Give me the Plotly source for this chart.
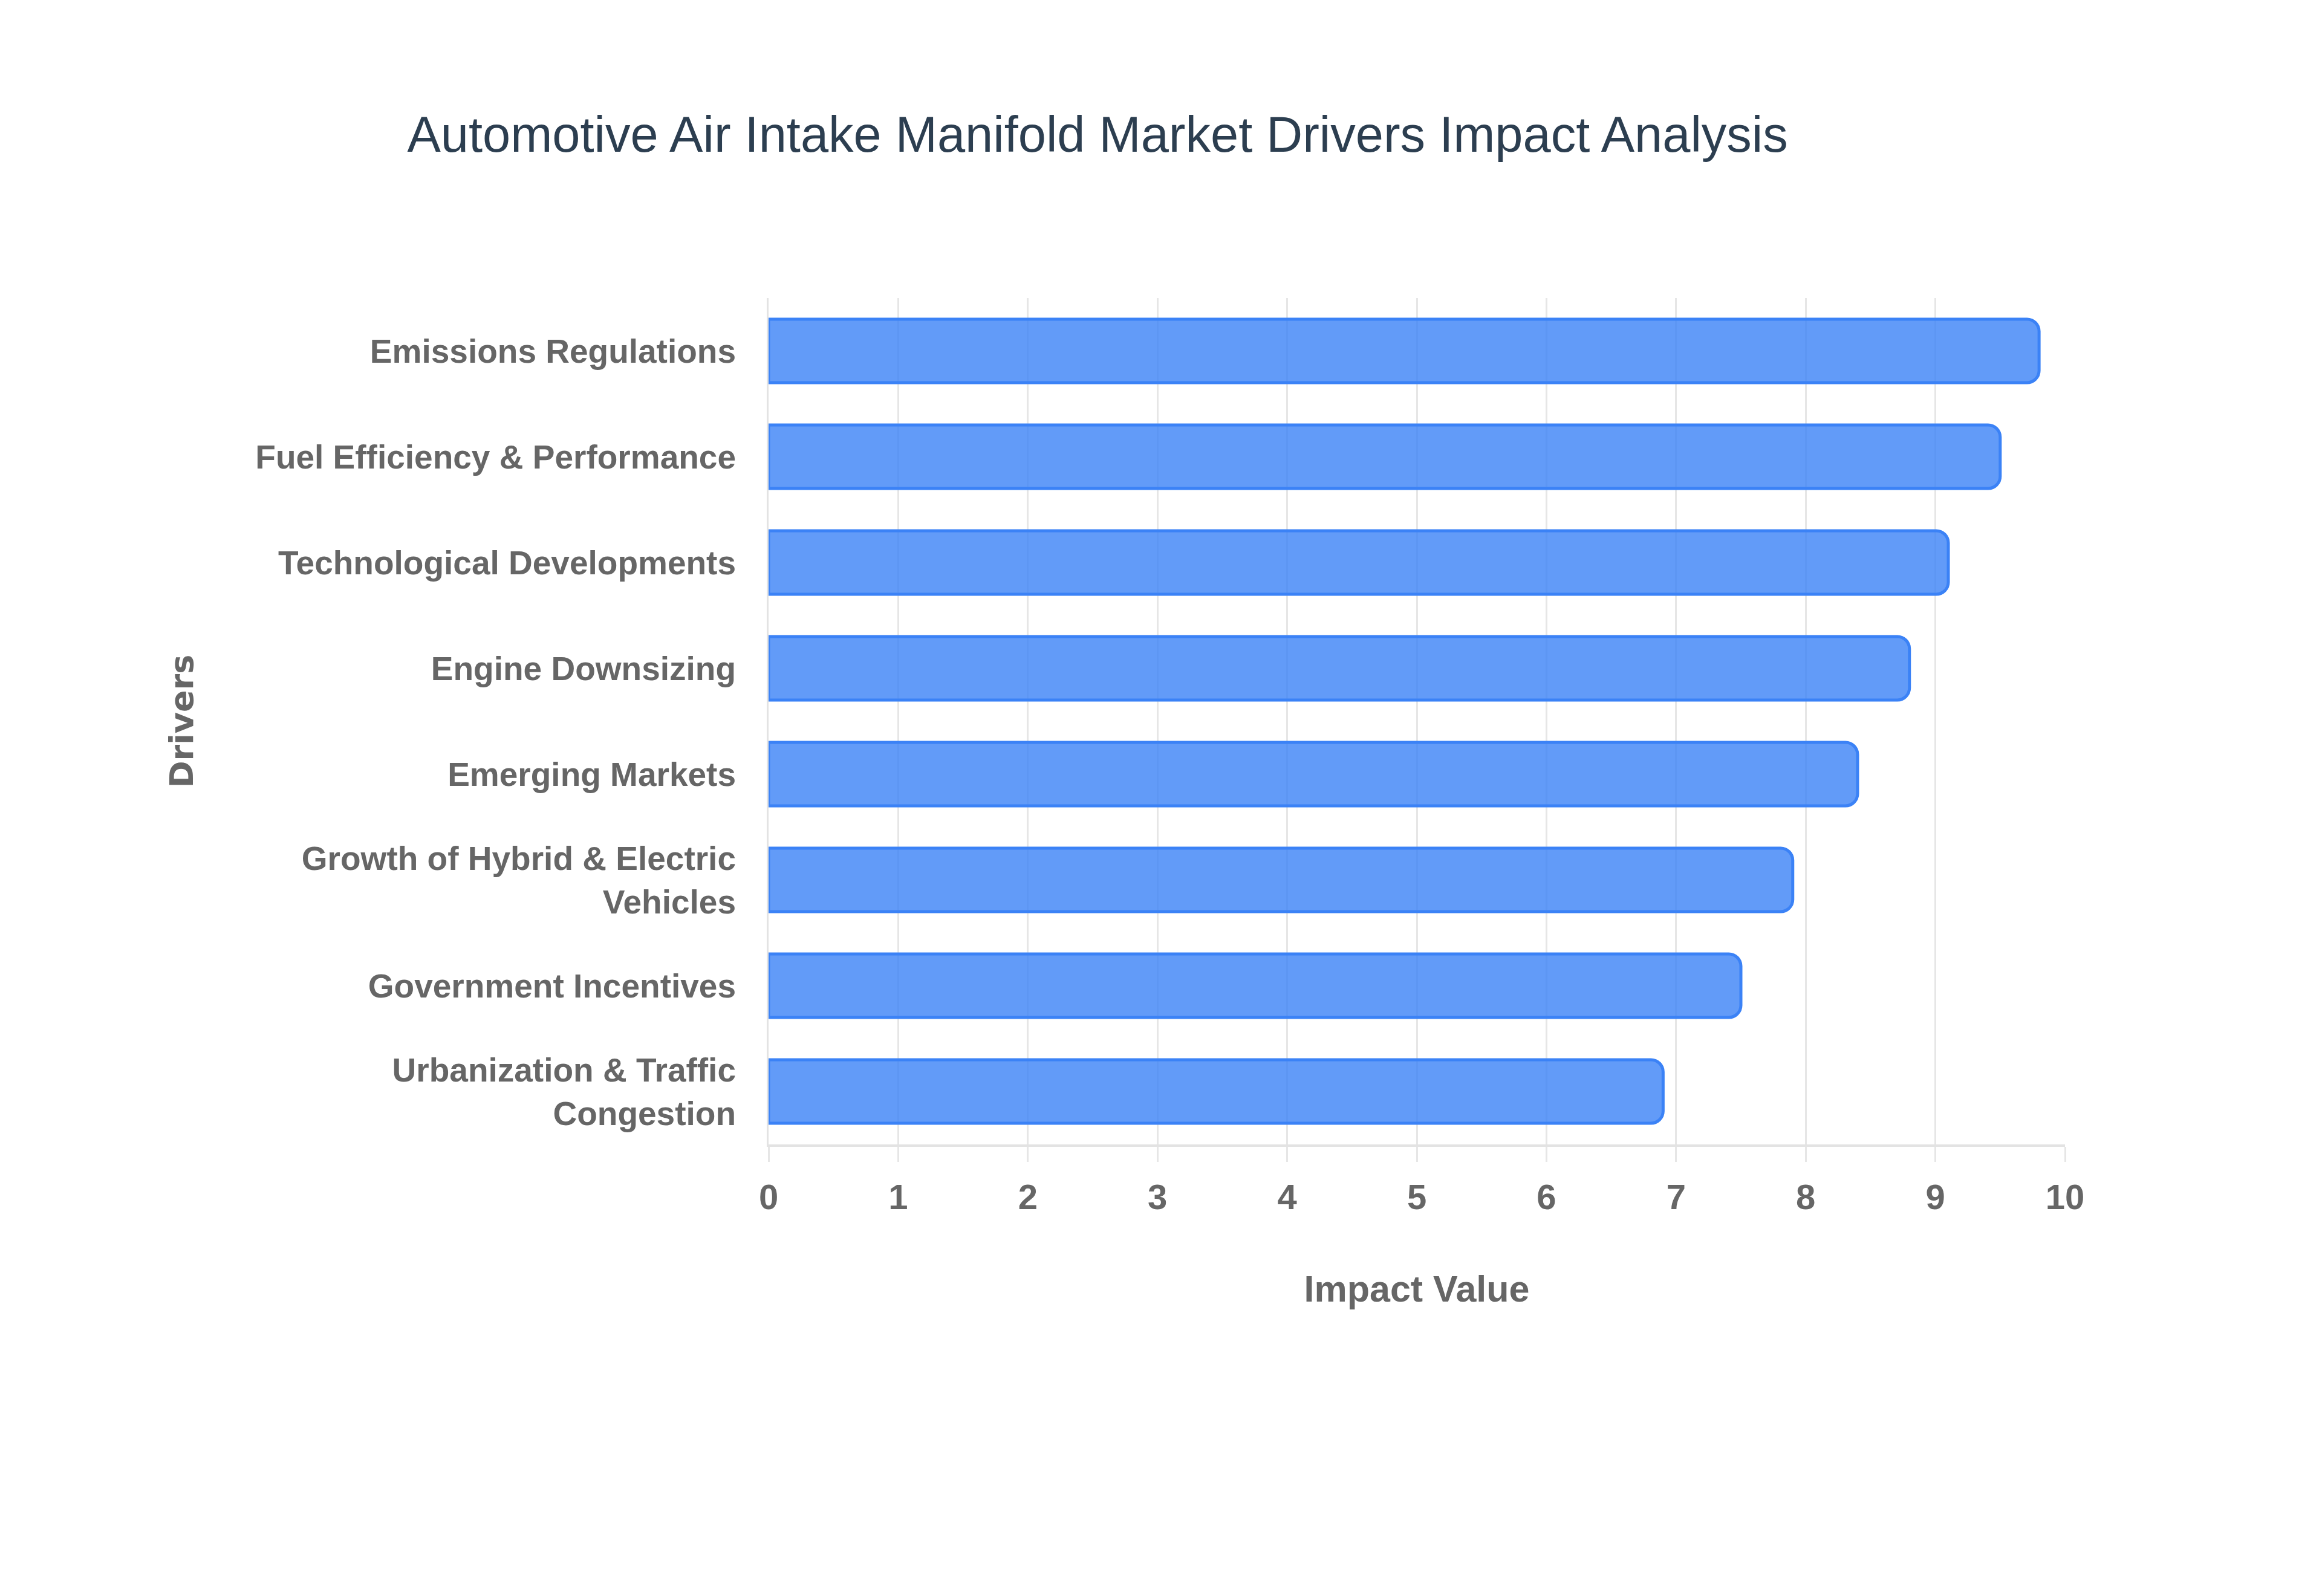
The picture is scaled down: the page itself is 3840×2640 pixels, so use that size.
import plotly.graph_objects as go

# Market drivers and their impact scores (top to bottom as shown)
drivers = [
    "Emissions Regulations",
    "Fuel Efficiency & Performance",
    "Technological Developments",
    "Engine Downsizing",
    "Emerging Markets",
    "Growth of Hybrid & Electric<br>Vehicles",
    "Government Incentives",
    "Urbanization & Traffic<br>Congestion",
]
impact_values = [9.8, 9.5, 9.1, 8.8, 8.4, 7.9, 7.5, 6.9]
x_ticks = list(range(0, 11))

title_text = "Automotive Air Intake Manifold Market Drivers Impact Analysis"

ARIAL = 'Arial, Liberation Sans, sans-serif'
GREY = '#666666'

fig = go.Figure()
fig.add_trace(go.Bar(
    x=impact_values,
    y=drivers,
    orientation='h',
    marker=dict(
        color='rgba(59,130,246,0.8)',
        line=dict(color='#3b82f6', width=5),
        cornerradius=20,
    ),
    hovertemplate='%{y}: %{x}<extra></extra>',
))

fig.update_layout(
    width=3840,
    height=2640,
    title=dict(
        text=title_text,
        x=0.4706,
        xanchor='center',
        y=0.919,
        yanchor='middle',
        font=dict(family=ARIAL, size=83, color='#2c3e50'),
    ),
    plot_bgcolor='white',
    paper_bgcolor='white',
    bargap=0.4,
    margin=dict(l=1263, r=433, t=485, b=755, autoexpand=False),
    showlegend=False,
    xaxis=dict(
        title=dict(text='Impact Value', font=dict(family=ARIAL, size=61, color=GREY,
                   weight='bold'), standoff=101),
        range=[0, 10],
        tickvals=x_ticks,
        tickfont=dict(family=ARIAL, size=58, color=GREY, weight='bold'),
        showgrid=True,
        gridcolor='#e6e6e6',
        gridwidth=3,
        ticks='outside',
        ticklen=25,
        tickwidth=3,
        tickcolor='#e6e6e6',
        ticklabelstandoff=8,
        showline=True,
        linecolor='#e3e3e3',
        linewidth=4,
        zeroline=False,
    ),
    yaxis=dict(
        title=dict(text='Drivers', font=dict(family='DejaVu Sans, sans-serif', size=54,
                   color=GREY, weight='bold'), standoff=86),
        categoryorder='array',
        categoryarray=drivers[::-1],
        tickfont=dict(family=ARIAL, size=55, color=GREY, weight='bold'),
        ticks='',
        ticklabelstandoff=40,
        showgrid=False,
        showline=True,
        linecolor='#e3e3e3',
        linewidth=3,
    ),
)

fig.write_html("out.html")
